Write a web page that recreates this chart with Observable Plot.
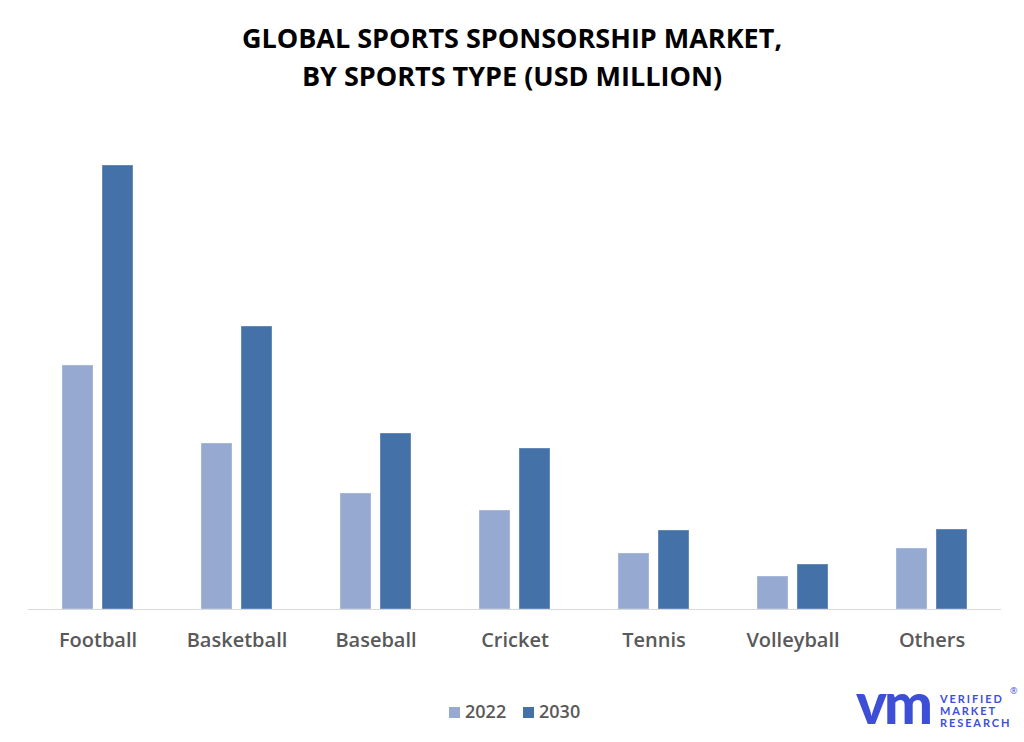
<!DOCTYPE html>
<html>
<head>
<meta charset="utf-8">
<script src="https://cdn.jsdelivr.net/npm/d3@7"></script>
<script src="https://cdn.jsdelivr.net/npm/@observablehq/plot@0.6"></script>
<style>
  html, body { margin: 0; padding: 0; background: #fff; }
  #wrap { position: relative; width: 1024px; height: 742px; overflow: hidden; font-family: "Open Sans", sans-serif; }
  .title { position: absolute; left: 0; width: 1024px; text-align: center; font-weight: 700; font-size: 27px; color: #000; line-height: 30px; white-space: nowrap; }
  #chart { position: absolute; left: 0; top: 110px; }
  .leg { position: absolute; top: 699px; font-size: 18px; font-weight: 600; color: #595959; line-height: 24px; }
  .sw { display: inline-block; width: 11px; height: 11px; vertical-align: middle; margin-right: 5px; position: relative; top: -1px; }
  #logo { position: absolute; left: 852px; top: 680px; width: 172px; height: 60px; color: #3d4fd6; }
  #logo .vm { position: absolute; left: 4px; top: -8px; font-family: Lato, sans-serif; font-weight: 900; font-size: 58px; letter-spacing: -3px; line-height: 60px; }
  #logo .ln { position: absolute; left: 88px; font-family: Lato, sans-serif; font-weight: 700; font-size: 11px; line-height: 12px; letter-spacing: 1.9px; white-space: nowrap; }
  #logo .reg { position: absolute; left: 158px; top: 6px; font-size: 9px; line-height: 10px; }
</style>
</head>
<body>
<div id="wrap">
  <div class="title" style="top:23px">GLOBAL SPORTS SPONSORSHIP MARKET,</div>
  <div class="title" style="top:61px">BY SPORTS TYPE (USD MILLION)</div>
  <div id="chart"></div>
  <div class="leg" style="left:449px"><span class="sw" style="background:#95a9d1"></span>2022</div>
  <div class="leg" style="left:523px"><span class="sw" style="background:#4472a8"></span>2030</div>
  <div id="logo">
    <div class="vm">vm</div>
    <div class="ln" style="top:13px">VERIFIED</div>
    <div class="ln" style="top:25px">MARKET</div>
    <div class="ln" style="top:37px">RESEARCH</div>
    <div class="reg">®</div>
  </div>
</div>
<script>
const categories = ["Football", "Basketball", "Baseball", "Cricket", "Tennis", "Volleyball", "Others"];
const years = ["2022", "2030"];
const values2022 = [244, 166, 116, 99, 56, 33, 61];
const values2030 = [444, 283, 176, 161, 79, 45, 80];
const colors = ["#95a9d1", "#4472a8"];

const data = [];
categories.forEach((c, i) => {
  data.push({category: c, year: years[0], value: values2022[i]});
  data.push({category: c, year: years[1], value: values2030[i]});
});

const chart = Plot.plot({
  width: 1024,
  height: 560,
  marginTop: 55,
  marginBottom: 61,
  marginLeft: 28,
  marginRight: 23,
  style: {fontFamily: "Open Sans, sans-serif", background: "#fff"},
  fx: {domain: categories, padding: 0, label: null},
  x: {domain: years, paddingInner: 0.225, paddingOuter: 0.85, axis: null},
  y: {domain: [0, 444], axis: null},
  color: {domain: years, range: colors},
  marks: [
    Plot.barY(data, {fx: "category", x: "year", y: "value", fill: "year", stroke: "#ffffff", strokeOpacity: 0.35, strokeWidth: 1}),
    Plot.ruleY([0], {stroke: "#d9d9d9", strokeWidth: 1.2}),
    Plot.axisFx({anchor: "bottom", tickSize: 0, tickPadding: 23, fontSize: 20, fontWeight: 600, fill: "#595959", label: null})
  ]
});
document.getElementById("chart").appendChild(chart);
</script>
</body>
</html>
